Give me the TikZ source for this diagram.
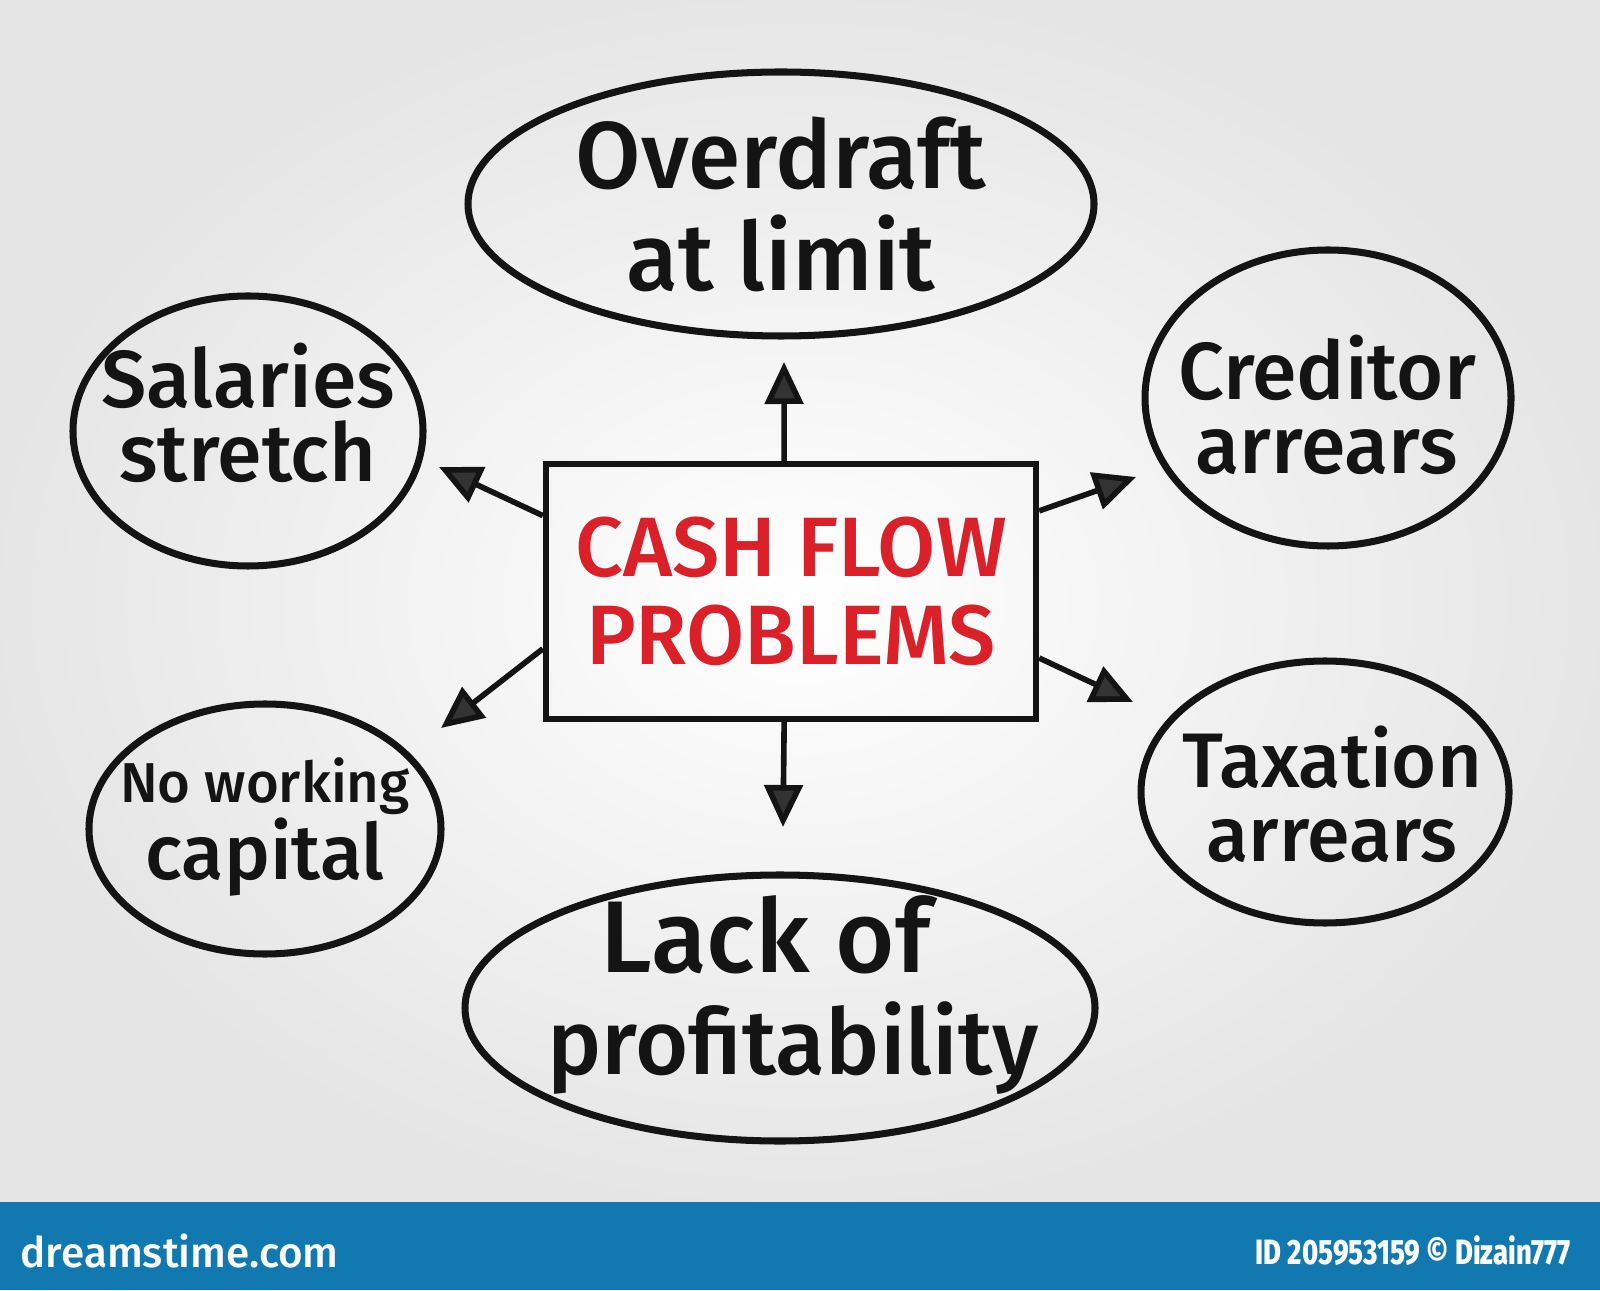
\documentclass[tikz,border=0pt]{standalone}
\usepackage{fontspec}
\setmainfont{Fira Sans}[UprightFont={* Medium}]
\usetikzlibrary{shapes.geometric,arrows.meta,positioning}
\definecolor{cfred}{RGB}{218,32,40}
\definecolor{barblue}{RGB}{17,120,176}
\definecolor{ink}{RGB}{20,20,20}
\newcommand{\fs}[2]{\fontsize{#1}{#2}\selectfont}
\tikzset{
  label/.style={align=center, inner sep=0pt, text=ink},
  ring/.style={draw=ink, line width=2pt},
  spoke/.style={-{Triangle[length=0.42cm,width=0.38cm,fill=black!80]}, draw=ink, line width=1.6pt}
}

\begin{document}
\begin{tikzpicture}
  \useasboundingbox (0,0) rectangle (16,12.9);
  \shade[inner color=white, outer color=black!10] (0,0.88) rectangle (16,12.9);
  \fill[barblue] (0,0) rectangle (16,0.88);
  \node (CF) [draw=ink, line width=1.8pt, minimum width=4.9cm, minimum height=2.55cm,
        align=center, text=cfred, font=\fs{24}{25}] at (7.91,6.985) {CASH FLOW\\PROBLEMS};
  \node (OD) [label, font=\fs{27}{29}] at (7.81,10.86) {Overdraft\\at limit};
  \node (SS) [label, font=\fs{23}{21}] at (2.48,8.77) {Salaries\\stretch};
  \node (CA) [label, font=\fs{23}{21}] at (13.27,8.85) {Creditor\\arrears};
  \node (NW) [label, font=\fs{22}{20}] at (2.65,4.63) {{\fs{16}{20}No working}\\capital};
  \node (TA) [label, font=\fs{22}{21}] at (13.32,4.96) {Taxation\\arrears};
  \node (LP) [label, font=\fs{26}{29}] at (7.93,2.95) {{\fs{29}{29}Lack of}\hspace*{0.55cm}\\profitability};
  \draw [ring] (OD) ellipse (3.13 and 1.32);
  \draw [ring] (SS) ++(0,-0.18) ellipse (1.75 and 1.35);
  \draw [ring] (CA) ++(0.01,0.07) ellipse (1.83 and 1.48);
  \draw [ring] (NW) ++(0,-0.02) ellipse (1.76 and 1.25);
  \draw [ring] (TA) ++(-0.07,0.02) ellipse (1.84 and 1.31);
  \draw [ring] (LP) ++(-0.13,-0.13) ellipse (3.15 and 1.33);
  \coordinate (UPt) at (7.84,9.28);
  \coordinate (DNt) at (7.83,4.63);
  \coordinate (ULt) at (4.39,8.23);
  \coordinate (LLt) at (4.41,5.62);
  \coordinate (URt) at (11.36,8.13);
  \coordinate (LRt) at (11.33,5.88);
  \draw [spoke] (CF.93) -- (UPt);
  \draw [spoke] (CF.267) -- (DNt);
  \draw [spoke] (CF.163) -- (ULt);
  \draw [spoke] (CF.193) -- (LLt);
  \draw [spoke] (CF.18) -- (URt);
  \draw [spoke] (CF.-15) -- (LRt);
  \node (DS) [anchor=west, inner sep=0pt, text=white, font=\fs{12}{14}] at (0.2,0.39) {dreamstime.com};
  \node (ID) [anchor=east, inner sep=0pt, text=white, font=\bfseries\fs{10}{12}] at (15.71,0.39) {\scalebox{0.78}[1]{ID 205953159 © Dizain777}};
\end{tikzpicture}
\end{document}
